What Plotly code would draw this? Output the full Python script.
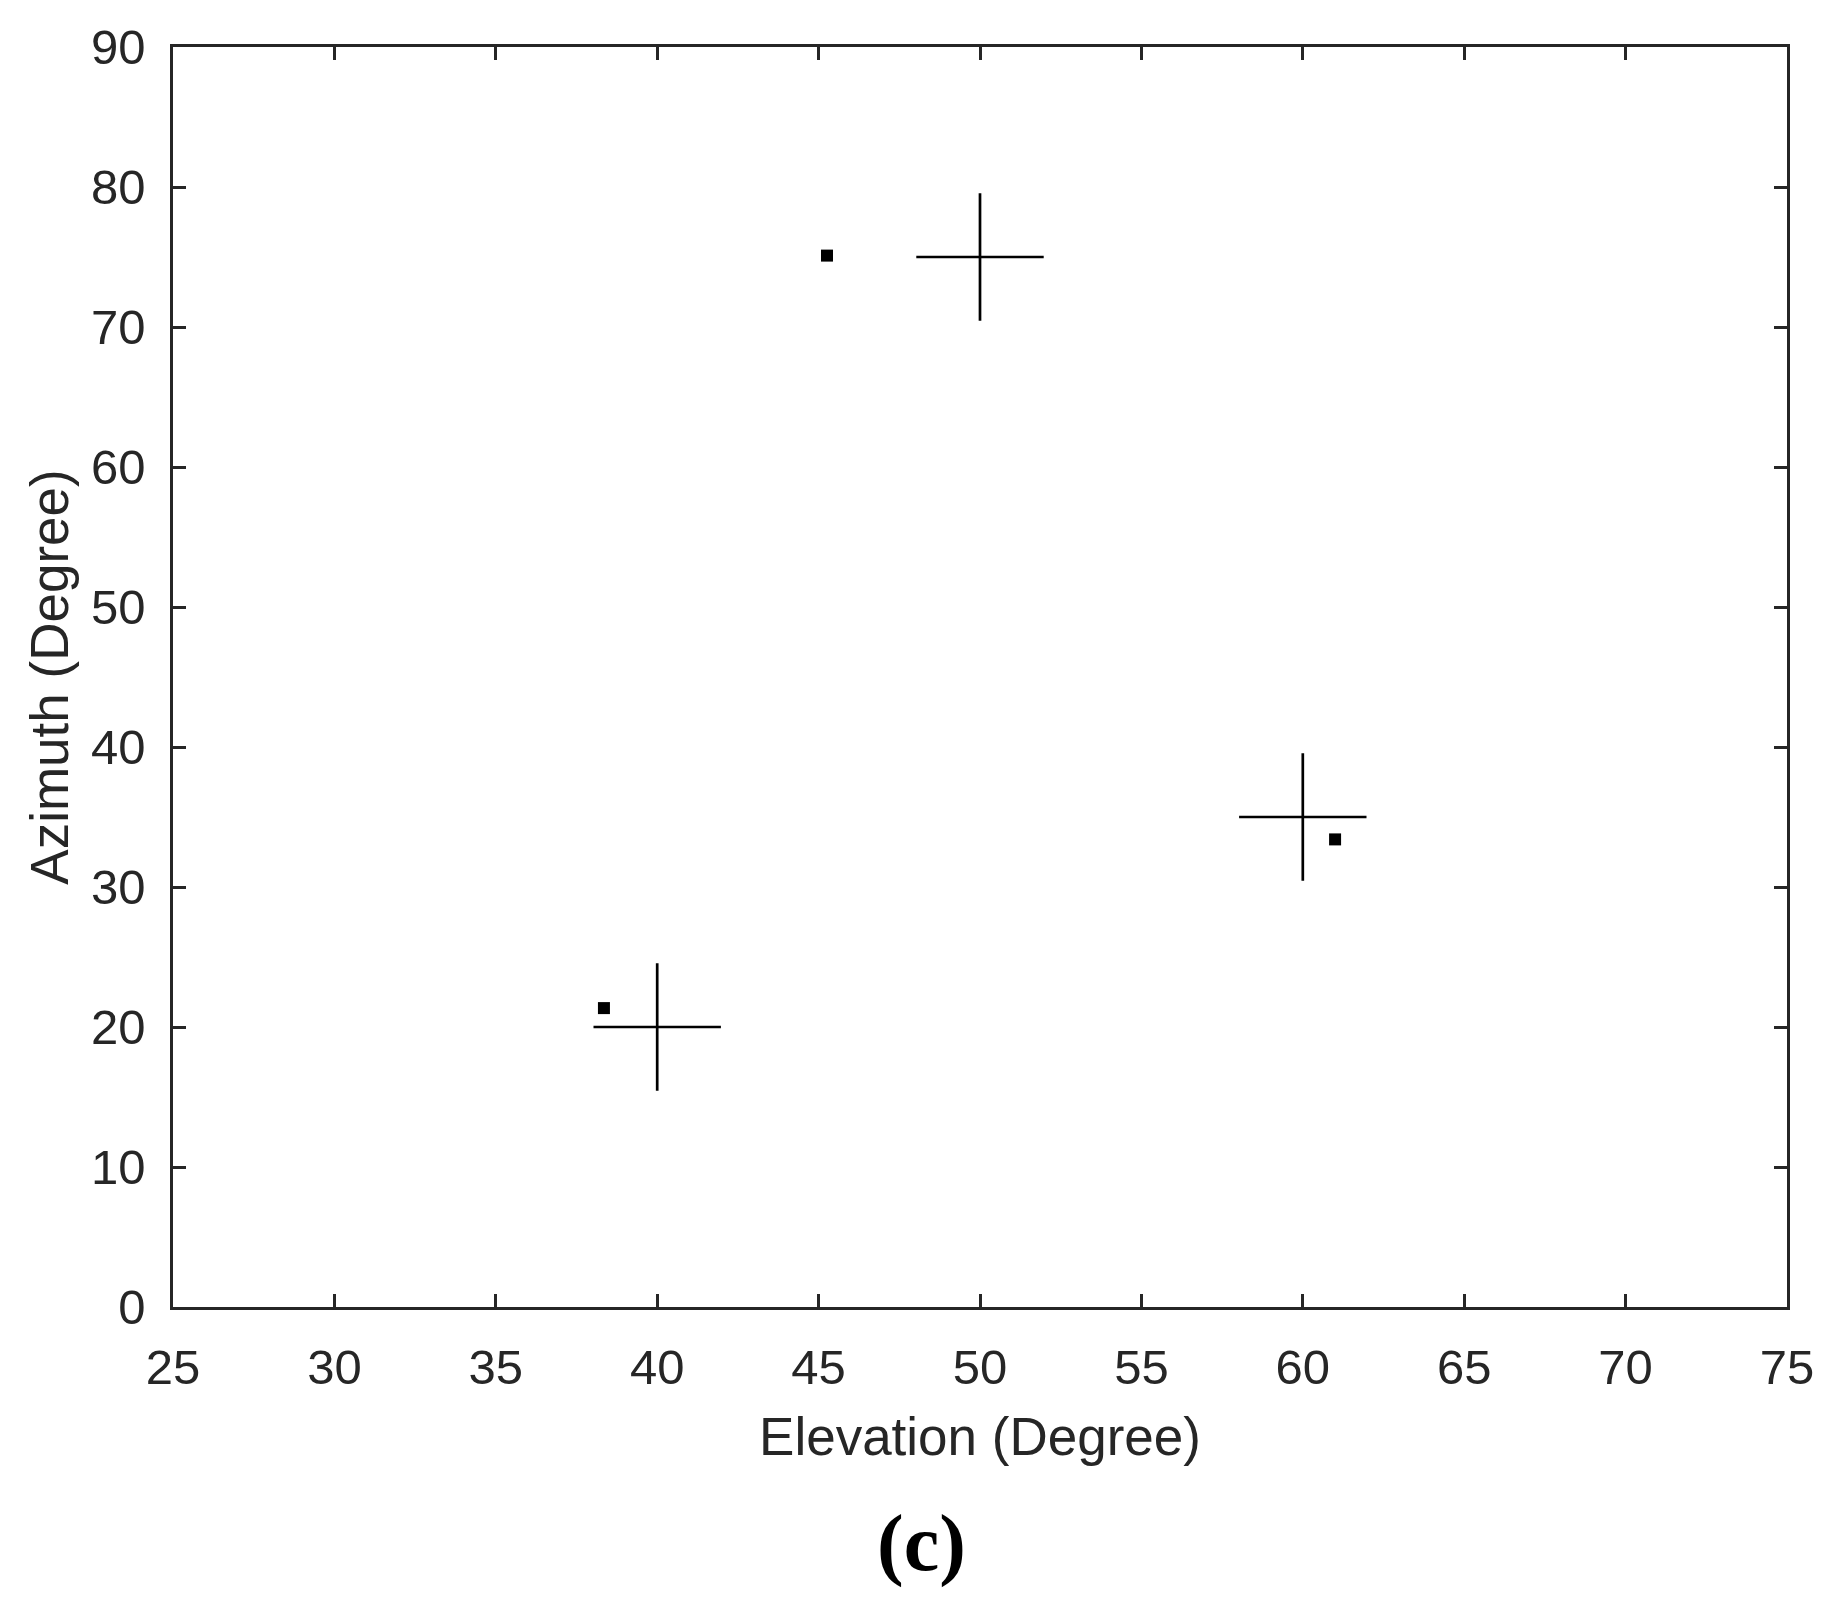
import plotly.graph_objects as go

# true source directions (plus markers) and estimated ones (dots)
true_elev = [40, 50, 60]
true_azim = [20, 75, 35]
est_elev = [38.35, 45.26, 61.0]
est_azim = [21.35, 75.1, 33.4]

xticks = [25, 30, 35, 40, 45, 50, 55, 60, 65, 70, 75]
yticks = [0, 10, 20, 30, 40, 50, 60, 70, 80, 90]

axcol = '#262626'
tickfont = dict(family='Liberation Sans, Arial', size=49, color=axcol)
titlefont = dict(family='Liberation Sans, Arial', size=53, color=axcol)

fig = go.Figure()
fig.add_trace(go.Scatter(x=true_elev, y=true_azim, mode='markers', name='true',
                         marker=dict(symbol='cross-thin', size=91, color='black',
                                     line=dict(width=2.7, color='black'))))
fig.add_trace(go.Scatter(x=est_elev, y=est_azim, mode='markers', name='estimated',
                         marker=dict(symbol='square', size=12, color='black',
                                     line=dict(width=0))))

# page body has an 8px margin, so the figure is a bit smaller than the window
fig.update_layout(width=1820, height=1602, showlegend=False,
                  plot_bgcolor='white', paper_bgcolor='white',
                  margin=dict(l=165, r=41, t=33, b=303))

fig.update_xaxes(range=[25, 75], tickvals=xticks, ticks='inside', ticklen=13, tickwidth=2.5,
                 tickcolor=axcol, showline=True, linewidth=2.5, linecolor=axcol, mirror='ticks',
                 showgrid=False, zeroline=False, tickfont=tickfont, ticklabelstandoff=15,
                 title=dict(text='Elevation (Degree)', font=titlefont, standoff=26))
fig.update_yaxes(range=[0, 90], tickvals=yticks, ticks='inside', ticklen=13, tickwidth=2.5,
                 tickcolor=axcol, showline=True, linewidth=2.5, linecolor=axcol, mirror='ticks',
                 showgrid=False, zeroline=False, tickfont=tickfont, ticklabelstandoff=15,
                 title=dict(text='Azimuth (Degree)', font=titlefont, standoff=6))

fig.add_annotation(text='<b>(c)</b>', xref='paper', yref='paper', x=(921 - 173) / 1614,
                   y=(1307 - 1545) / 1266, xanchor='center', yanchor='middle', showarrow=False,
                   font=dict(family='Liberation Serif, Times New Roman', size=80, color='black'))

fig.write_html("out.html")
